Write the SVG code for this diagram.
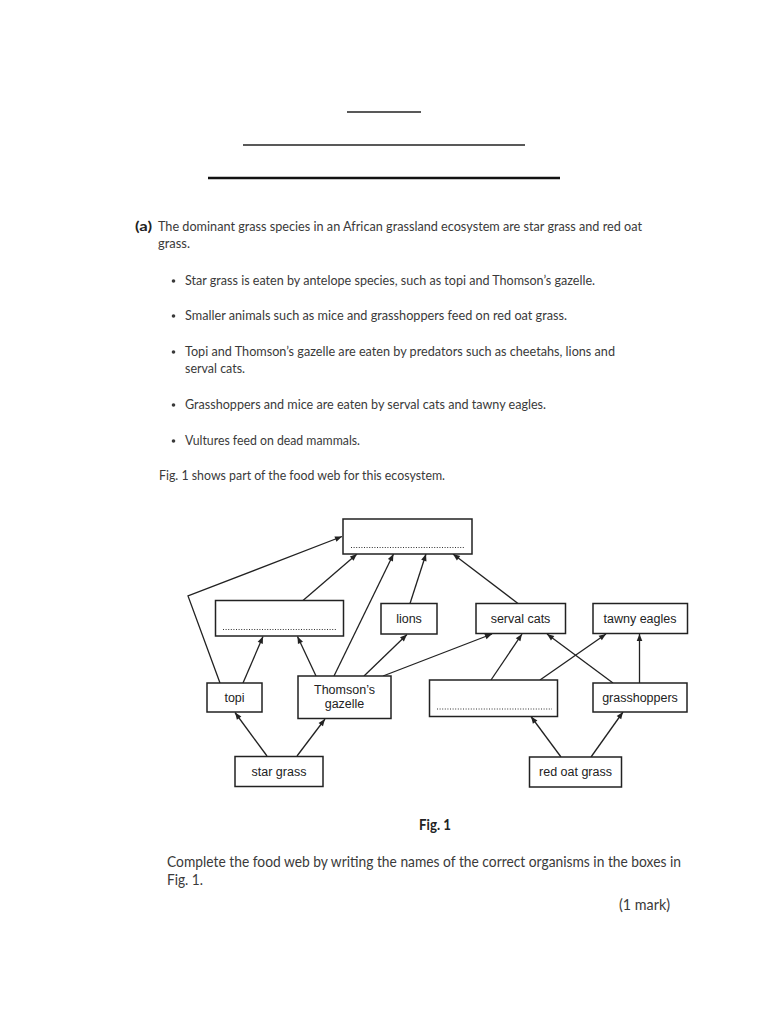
<svg xmlns="http://www.w3.org/2000/svg" width="768" height="1024" viewBox="0 0 768 1024">
<defs>
<style>
.body{font-family:Lato,"Open Sans","Noto Sans",sans-serif;font-size:14px;fill:#3a3a3a}
.big{font-size:15px}
.bold{font-weight:bold;fill:#222}
.lbl{font-family:"Liberation Sans",Arial,sans-serif;font-size:12.5px;fill:#222;text-anchor:middle}
.box{fill:#fff;stroke:#222;stroke-width:1.5}
.dots{stroke:#333;stroke-width:1.2;stroke-dasharray:1 1.6;fill:none}
.con{fill:none;stroke:#222;stroke-width:1.3;marker-end:url(#ah)}
.hl{stroke:#222}
</style>
<marker id="ah" viewBox="0 0 10 10" refX="10" refY="5" markerWidth="9" markerHeight="7" markerUnits="userSpaceOnUse" orient="auto"><path d="M0,1 L10,5 L0,9 z" fill="#222"/></marker>
</defs>
<rect width="768" height="1024" fill="#fff"/>
<g id="header">
<line class="hl" x1="347" y1="112" x2="421" y2="112" stroke-width="1.5"/>
<line class="hl" x1="243" y1="145" x2="525" y2="145" stroke-width="1.5"/>
<line x1="208" y1="178" x2="560" y2="178" stroke="#111" stroke-width="2.5"/>
</g>
<g id="question">
<text class="body bold" x="135" y="231" textLength="17" lengthAdjust="spacingAndGlyphs">(a)</text>
<text class="body" x="158" y="231" textLength="484" lengthAdjust="spacingAndGlyphs">The dominant grass species in an African grassland ecosystem are star grass and red oat</text>
<text class="body" x="158" y="248" textLength="32" lengthAdjust="spacingAndGlyphs">grass.</text>
<circle cx="173.5" cy="281" r="1.8" fill="#3a3a3a"/>
<text class="body" x="185" y="285" textLength="410" lengthAdjust="spacingAndGlyphs">Star grass is eaten by antelope species, such as topi and Thomson’s gazelle.</text>
<circle cx="173.5" cy="316" r="1.8" fill="#3a3a3a"/>
<text class="body" x="185" y="320" textLength="382" lengthAdjust="spacingAndGlyphs">Smaller animals such as mice and grasshoppers feed on red oat grass.</text>
<circle cx="173.5" cy="352" r="1.8" fill="#3a3a3a"/>
<text class="body" x="185" y="356" textLength="430" lengthAdjust="spacingAndGlyphs">Topi and Thomson’s gazelle are eaten by predators such as cheetahs, lions and</text>
<text class="body" x="185" y="373" textLength="60" lengthAdjust="spacingAndGlyphs">serval cats.</text>
<circle cx="173.5" cy="405" r="1.8" fill="#3a3a3a"/>
<text class="body" x="185" y="409" textLength="361" lengthAdjust="spacingAndGlyphs">Grasshoppers and mice are eaten by serval cats and tawny eagles.</text>
<circle cx="173.5" cy="441" r="1.8" fill="#3a3a3a"/>
<text class="body" x="185" y="445" textLength="175" lengthAdjust="spacingAndGlyphs">Vultures feed on dead mammals.</text>
<text class="body" x="159" y="480" textLength="286" lengthAdjust="spacingAndGlyphs">Fig. 1 shows part of the food web for this ecosystem.</text>
</g>
<g id="connectors">
<path class="con" d="M267,756 L235,712.5"/>
<path class="con" d="M297,756 L325,719"/>
<path class="con" d="M243,683 L263,636.5"/>
<path class="con" d="M220,683 L188,596 L342,536.5"/>
<path class="con" d="M316,676 L297.5,636.5"/>
<path class="con" d="M334,676 L393.5,554"/>
<path class="con" d="M364,676 L407,634.5"/>
<path class="con" d="M383,676 L492,634"/>
<path class="con" d="M303,600.5 L357,554"/>
<path class="con" d="M410,603.5 L426,554"/>
<path class="con" d="M518,603.5 L453,554"/>
<path class="con" d="M491,680 L522,634"/>
<path class="con" d="M540,680 L606,634"/>
<path class="con" d="M613,683 L547,634"/>
<path class="con" d="M639.5,683 L639.5,634"/>
<path class="con" d="M561,757 L531,716.5"/>
<path class="con" d="M591,757 L623,712"/>
</g>
<g id="vultures">
<rect class="box" x="343" y="519" width="129" height="35"/>
<line class="dots" x1="351" y1="547.5" x2="465" y2="547.5"/>
</g>
<g id="cheetahs">
<rect class="box" x="215.5" y="600.5" width="128" height="35.5"/>
<line class="dots" x1="223" y1="629.5" x2="337" y2="629.5"/>
</g>
<g id="lions">
<rect class="box" x="381" y="603.5" width="56" height="30.5"/>
<text class="lbl" x="409" y="622.5">lions</text>
</g>
<g id="serval-cats">
<rect class="box" x="476" y="603.5" width="89.5" height="30"/>
<text class="lbl" x="520.5" y="622.5">serval cats</text>
</g>
<g id="tawny-eagles">
<rect class="box" x="593" y="603.5" width="94.5" height="30"/>
<text class="lbl" x="640" y="622.5">tawny eagles</text>
</g>
<g id="topi">
<rect class="box" x="207" y="683" width="55" height="29"/>
<text class="lbl" x="234.5" y="701.5">topi</text>
</g>
<g id="thomsons-gazelle">
<rect class="box" x="298" y="676" width="93" height="42.5"/>
<text class="lbl" x="344.5" y="694">Thomson’s</text>
<text class="lbl" x="344.5" y="708">gazelle</text>
</g>
<g id="mice">
<rect class="box" x="429.5" y="680" width="128" height="36.5"/>
<line class="dots" x1="437" y1="709" x2="552" y2="709"/>
</g>
<g id="grasshoppers">
<rect class="box" x="593" y="683" width="94" height="29"/>
<text class="lbl" x="640" y="701.5">grasshoppers</text>
</g>
<g id="star-grass">
<rect class="box" x="235" y="756.5" width="88" height="30"/>
<text class="lbl" x="279" y="775.5">star grass</text>
</g>
<g id="red-oat-grass">
<rect class="box" x="529.5" y="757" width="92" height="30"/>
<text class="lbl" x="575.5" y="775.5">red oat grass</text>
</g>
<g id="footer">
<text class="body bold big" x="419" y="830" textLength="32" lengthAdjust="spacingAndGlyphs">Fig. 1</text>
<text class="body big" x="167" y="867" textLength="514" lengthAdjust="spacingAndGlyphs">Complete the food web by writing the names of the correct organisms in the boxes in</text>
<text class="body big" x="167" y="885" textLength="36" lengthAdjust="spacingAndGlyphs">Fig. 1.</text>
<text class="body big" x="619" y="910" textLength="51" lengthAdjust="spacingAndGlyphs">(1 mark)</text>
</g>
</svg>
